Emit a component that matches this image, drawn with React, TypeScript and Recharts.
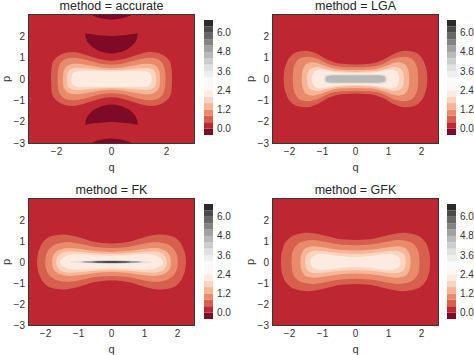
import React from 'react';
import { Area, CartesianGrid, ComposedChart, XAxis, YAxis } from 'recharts';

// contour level edges and the colour of each band between them (RdGy)
const levelEdges = [-0.4, 0.0, 0.4, 0.8, 1.2, 1.6, 2.0, 2.4, 2.8, 3.2, 3.6, 4.0, 4.4, 4.8, 5.2, 5.6, 6.0, 6.4, 6.8];
const bandColors = [
    '#7f0a26', '#be2632', '#d6604d', '#e98b6b', '#f5b596', '#fad4bf', '#fdebe2', '#fef7f3', '#fafafa',
    '#efefef', '#e0e0e0', '#cdcdcd', '#b9b9b9', '#a0a0a0', '#838383', '#676767', '#4a4a4a', '#2b2b2b',
];
const colorbarTicks = [0, 1.2, 2.4, 3.6, 4.8, 6.0];
const pTicks = [-3, -2, -1, 0, 1, 2];
const qTicksWide = [-2, 0, 2];
const qTicksNarrow = [-2, -1, 0, 1, 2];

type Contour = { level: number; q: number[]; h: number[] };
type Well = { level: number; q: number[]; lo: number[]; hi: number[] };

// half-profiles: q >= 0, p half-height h (shapes are symmetric)
const accurateContours: Contour[] = [
    { level: 0.4, q: [0, 0.4, 0.8, 1.1, 1.4, 1.7, 1.9, 2.05, 2.15, 2.19, 2.2], h: [0.86, 0.92, 1.08, 1.2, 1.26, 1.22, 1.1, 0.94, 0.74, 0.42, 0] },
    { level: 0.8, q: [0, 0.4, 0.8, 1.1, 1.4, 1.65, 1.8, 1.9, 1.95, 1.96], h: [0.67, 0.72, 0.85, 0.95, 1.0, 0.95, 0.82, 0.62, 0.32, 0] },
    { level: 1.2, q: [0, 0.4, 0.8, 1.1, 1.35, 1.55, 1.68, 1.75, 1.77], h: [0.5, 0.54, 0.63, 0.7, 0.72, 0.66, 0.52, 0.3, 0] },
    { level: 1.6, q: [0, 0.5, 1.0, 1.3, 1.5, 1.6, 1.63], h: [0.42, 0.45, 0.5, 0.52, 0.45, 0.28, 0] },
    { level: 2.0, q: [0, 0.6, 1.1, 1.3, 1.42, 1.47], h: [0.36, 0.38, 0.39, 0.35, 0.24, 0] },
];
// negative regions (upper half, mirrored to the lower half)
const accurateWells: Well[] = [
    { level: -0.4, q: [0, 0.3, 0.6, 0.8, 0.92, 0.96], lo: [1.2, 1.25, 1.42, 1.63, 1.88, 2.12], hi: [2.02, 2.04, 2.08, 2.11, 2.13, 2.13] },
    { level: -0.4, q: [0, 0.3, 0.5, 0.65, 0.72], lo: [2.79, 2.82, 2.88, 2.95, 3.0], hi: [3, 3, 3, 3, 3] },
];

const lgaContours: Contour[] = [
    { level: 0.4, q: [0, 0.43, 0.83, 1.19, 1.49, 1.74, 1.95, 2.1, 2.16, 2.18], h: [0.68, 0.71, 0.89, 1.2, 1.33, 1.28, 1.09, 0.7, 0.35, 0] },
    { level: 0.8, q: [0, 0.45, 0.85, 1.15, 1.44, 1.65, 1.8, 1.88, 1.9], h: [0.55, 0.58, 0.72, 0.95, 1.04, 0.98, 0.78, 0.45, 0] },
    { level: 1.2, q: [0, 0.5, 0.85, 1.1, 1.3, 1.48, 1.58, 1.62, 1.63], h: [0.42, 0.45, 0.58, 0.72, 0.78, 0.7, 0.5, 0.25, 0] },
    { level: 1.6, q: [0, 0.5, 0.9, 1.15, 1.32, 1.42, 1.46, 1.47], h: [0.33, 0.36, 0.47, 0.56, 0.52, 0.38, 0.18, 0] },
    { level: 2.0, q: [0, 0.5, 0.9, 1.1, 1.22, 1.3, 1.33], h: [0.27, 0.3, 0.4, 0.44, 0.38, 0.2, 0] },
    { level: 3.6, q: [0, 0.7, 0.88, 0.95, 0.97], h: [0.22, 0.22, 0.2, 0.12, 0] },
    { level: 4.4, q: [0, 0.7, 0.85, 0.9, 0.91], h: [0.17, 0.17, 0.14, 0.08, 0] },
];

const fkContours: Contour[] = [
    { level: 0.4, q: [0, 0.54, 1.04, 1.45, 1.75, 2.0, 2.17, 2.24, 2.26], h: [0.88, 0.96, 1.2, 1.31, 1.26, 1.07, 0.67, 0.3, 0] },
    { level: 0.8, q: [0, 0.5, 1.0, 1.34, 1.62, 1.82, 1.95, 2.0, 2.01], h: [0.67, 0.72, 0.88, 0.94, 0.88, 0.72, 0.45, 0.2, 0] },
    { level: 1.2, q: [0, 0.5, 1.0, 1.3, 1.55, 1.72, 1.79, 1.8], h: [0.48, 0.52, 0.63, 0.67, 0.6, 0.42, 0.2, 0] },
    { level: 1.6, q: [0, 0.5, 1.0, 1.3, 1.5, 1.62, 1.67, 1.68], h: [0.39, 0.42, 0.49, 0.51, 0.44, 0.28, 0.12, 0] },
    { level: 2.0, q: [0, 0.5, 1.0, 1.25, 1.45, 1.55, 1.56], h: [0.3, 0.33, 0.37, 0.35, 0.22, 0.08, 0] },
    { level: 3.6, q: [0, 0.6, 1.0, 1.2, 1.26], h: [0.07, 0.06, 0.04, 0.02, 0] },
    { level: 4.8, q: [0, 0.5, 0.8, 0.95], h: [0.055, 0.045, 0.03, 0] },
    { level: 6.0, q: [0, 0.3, 0.5, 0.6], h: [0.045, 0.035, 0.02, 0] },
];

const gfkContours: Contour[] = [
    { level: 0.4, q: [0, 0.43, 0.94, 1.44, 1.79, 2.05, 2.2, 2.25, 2.26], h: [1.05, 1.08, 1.26, 1.39, 1.31, 1.07, 0.67, 0.3, 0] },
    { level: 0.8, q: [0, 0.45, 0.9, 1.29, 1.6, 1.82, 1.92, 1.94], h: [0.8, 0.83, 0.95, 1.05, 0.98, 0.75, 0.4, 0] },
    { level: 1.2, q: [0, 0.45, 0.9, 1.25, 1.48, 1.6, 1.66, 1.67], h: [0.55, 0.58, 0.68, 0.75, 0.68, 0.5, 0.25, 0] },
    { level: 1.6, q: [0, 0.45, 0.9, 1.2, 1.4, 1.5, 1.53], h: [0.39, 0.42, 0.5, 0.54, 0.45, 0.28, 0] },
    { level: 2.0, q: [0, 0.4, 0.8, 1.05, 1.25, 1.35, 1.37], h: [0.23, 0.27, 0.36, 0.39, 0.3, 0.15, 0] },
];

const FONT = '"Liberation Sans", Arial, sans-serif';
const TEXT = '#333333';

const colorOf = (level: number) => bandColors[levelEdges.indexOf(level)];

const fmtTick = (v: number) => (v < 0 ? '\u2212' + Math.abs(v) : String(v));

const contourRows = (c: Contour) => {
    const rows: { q: number; band: number[] }[] = [];
    for (let i = c.q.length - 1; i > 0; i--) rows.push({ q: -c.q[i], band: [-c.h[i], c.h[i]] });
    for (let i = 0; i < c.q.length; i++) rows.push({ q: c.q[i], band: [-c.h[i], c.h[i]] });
    return rows;
};

const wellRows = (w: Well, upper: boolean) => {
    const rows: { q: number; band: number[] }[] = [];
    const band = (i: number) => (upper ? [w.lo[i], w.hi[i]] : [-w.hi[i], -w.lo[i]]);
    for (let i = w.q.length - 1; i > 0; i--) rows.push({ q: -w.q[i], band: band(i) });
    for (let i = 0; i < w.q.length; i++) rows.push({ q: w.q[i], band: band(i) });
    return rows;
};

const xName = (props: any) => {
    const vb = props.viewBox;
    return (
        <text x={vb.x + vb.width / 2} y={vb.y + 28} textAnchor="middle" fontSize={11} fontFamily={FONT} fill={TEXT}>
            q
        </text>
    );
};

const yName = (props: any) => {
    const vb = props.viewBox;
    const cx = vb.x + 10;
    const cy = vb.y + vb.height / 2;
    return (
        <text x={cx} y={cy} transform={`rotate(-90 ${cx} ${cy})`} textAnchor="middle" fontSize={11} fontFamily={FONT} fill={TEXT}>
            p
        </text>
    );
};

type PanelSpec = {
    title: string;
    left: number;
    top: number;
    width: number;
    height: number;
    xDomain: [number, number];
    xTicks: number[];
    contours: Contour[];
    wells: Well[];
    bar: { left: number; top: number; width: number; height: number };
};

const tickStyle = { fill: TEXT, fontSize: 10, fontFamily: FONT };

function Colorbar({ left, top, width, height }: PanelSpec['bar']) {
    const labelW = 30;
    return (
        <div style={{ position: 'absolute', left, top, width: width + labelW, height }}>
            <ComposedChart width={width + labelW} height={height} margin={{ top: 0, right: 0, bottom: 0, left: 0 }}>
                <XAxis type="number" dataKey="x" domain={[0, 1]} hide allowDataOverflow />
                <YAxis
                    type="number"
                    orientation="right"
                    domain={[-0.4, 6.8]}
                    ticks={colorbarTicks}
                    interval={0}
                    allowDataOverflow
                    width={labelW}
                    axisLine={false}
                    tickLine={false}
                    tickSize={2}
                    tickMargin={2}
                    tick={tickStyle}
                    tickFormatter={(v: number) => v.toFixed(1)}
                />
                {bandColors.map((c, i) => (
                    <Area
                        key={i}
                        data={[
                            { x: 0, band: [levelEdges[i], levelEdges[i + 1]] },
                            { x: 1, band: [levelEdges[i], levelEdges[i + 1]] },
                        ]}
                        dataKey="band"
                        type="linear"
                        stroke="none"
                        fill={c}
                        fillOpacity={1}
                        dot={false}
                        activeDot={false}
                        isAnimationActive={false}
                    />
                ))}
            </ComposedChart>
        </div>
    );
}

function Panel({ spec }: { spec: PanelSpec }) {
    const { title, left, top, width, height, xDomain, xTicks, contours, wells } = spec;
    const yw = 29;
    const xh = 34;
    return (
        <>
            <div
                style={{
                    position: 'absolute',
                    left: left - 40,
                    width: width + 80,
                    top: top - 16,
                    textAlign: 'center',
                    fontFamily: FONT,
                    fontSize: 12.5,
                    lineHeight: '14px',
                    color: '#262626',
                }}
            >
                {title}
            </div>
            <div style={{ position: 'absolute', left: left - yw, top, width: width + yw, height: height + xh }}>
                <ComposedChart width={width + yw} height={height + xh} margin={{ top: 0, right: 0, bottom: 0, left: 0 }}>
                    <CartesianGrid horizontal={false} vertical={false} fill={bandColors[1]} fillOpacity={1} />
                    <XAxis
                        type="number"
                        dataKey="q"
                        domain={xDomain}
                        ticks={xTicks}
                        interval={0}
                        allowDataOverflow
                        height={xh}
                        axisLine={false}
                        tickLine={false}
                        tickSize={3}
                        tickMargin={2}
                        tick={tickStyle}
                        tickFormatter={fmtTick}
                        label={xName}
                    />
                    <YAxis
                        type="number"
                        domain={[-3, 3]}
                        ticks={pTicks}
                        interval={0}
                        allowDataOverflow
                        width={yw}
                        axisLine={false}
                        tickLine={false}
                        tickSize={2}
                        tickMargin={2}
                        tick={tickStyle}
                        tickFormatter={fmtTick}
                        label={yName}
                    />
                    {wells.flatMap((w, i) =>
                        [true, false].map((upper) => (
                            <Area
                                key={`w${i}${upper}`}
                                data={wellRows(w, upper)}
                                dataKey="band"
                                type="monotone"
                                stroke="none"
                                fill={colorOf(w.level)}
                                fillOpacity={1}
                                dot={false}
                                activeDot={false}
                                isAnimationActive={false}
                            />
                        )),
                    )}
                    {contours.map((c, i) => (
                        <Area
                            key={`c${i}`}
                            data={contourRows(c)}
                            dataKey="band"
                            type="monotone"
                            stroke="none"
                            fill={colorOf(c.level)}
                            fillOpacity={1}
                            dot={false}
                            activeDot={false}
                            isAnimationActive={false}
                        />
                    ))}
                </ComposedChart>
            </div>
            <div
                style={{
                    position: 'absolute',
                    left: left - 1,
                    top: top - 1,
                    width: width + 2,
                    height: height + 2,
                    border: '1px solid #3a3434',
                    boxSizing: 'border-box',
                    pointerEvents: 'none',
                }}
            />
            <Colorbar {...spec.bar} />
        </>
    );
}

const panels: PanelSpec[] = [
    {
        title: 'method = accurate', left: 29, top: 15, width: 165, height: 128, xDomain: [-3, 3], xTicks: qTicksWide,
        contours: accurateContours, wells: accurateWells, bar: { left: 204, top: 20, width: 9, height: 115 },
    },
    {
        title: 'method = LGA', left: 273, top: 15, width: 165, height: 128, xDomain: [-2.5, 2.5], xTicks: qTicksNarrow,
        contours: lgaContours, wells: [], bar: { left: 447, top: 20, width: 9, height: 115 },
    },
    {
        title: 'method = FK', left: 29, top: 199, width: 165, height: 126, xDomain: [-2.5, 2.5], xTicks: qTicksNarrow,
        contours: fkContours, wells: [], bar: { left: 204, top: 204, width: 9, height: 115 },
    },
    {
        title: 'method = GFK', left: 273, top: 199, width: 165, height: 126, xDomain: [-2.5, 2.5], xTicks: qTicksNarrow,
        contours: gfkContours, wells: [], bar: { left: 447, top: 204, width: 9, height: 115 },
    },
];

export default function App() {
    return (
        <div style={{ position: 'absolute', left: 0, top: 0, width: 474, height: 355, background: '#ffffff', overflow: 'hidden' }}>
            {panels.map((p) => (
                <Panel key={p.title} spec={p} />
            ))}
        </div>
    );
}
